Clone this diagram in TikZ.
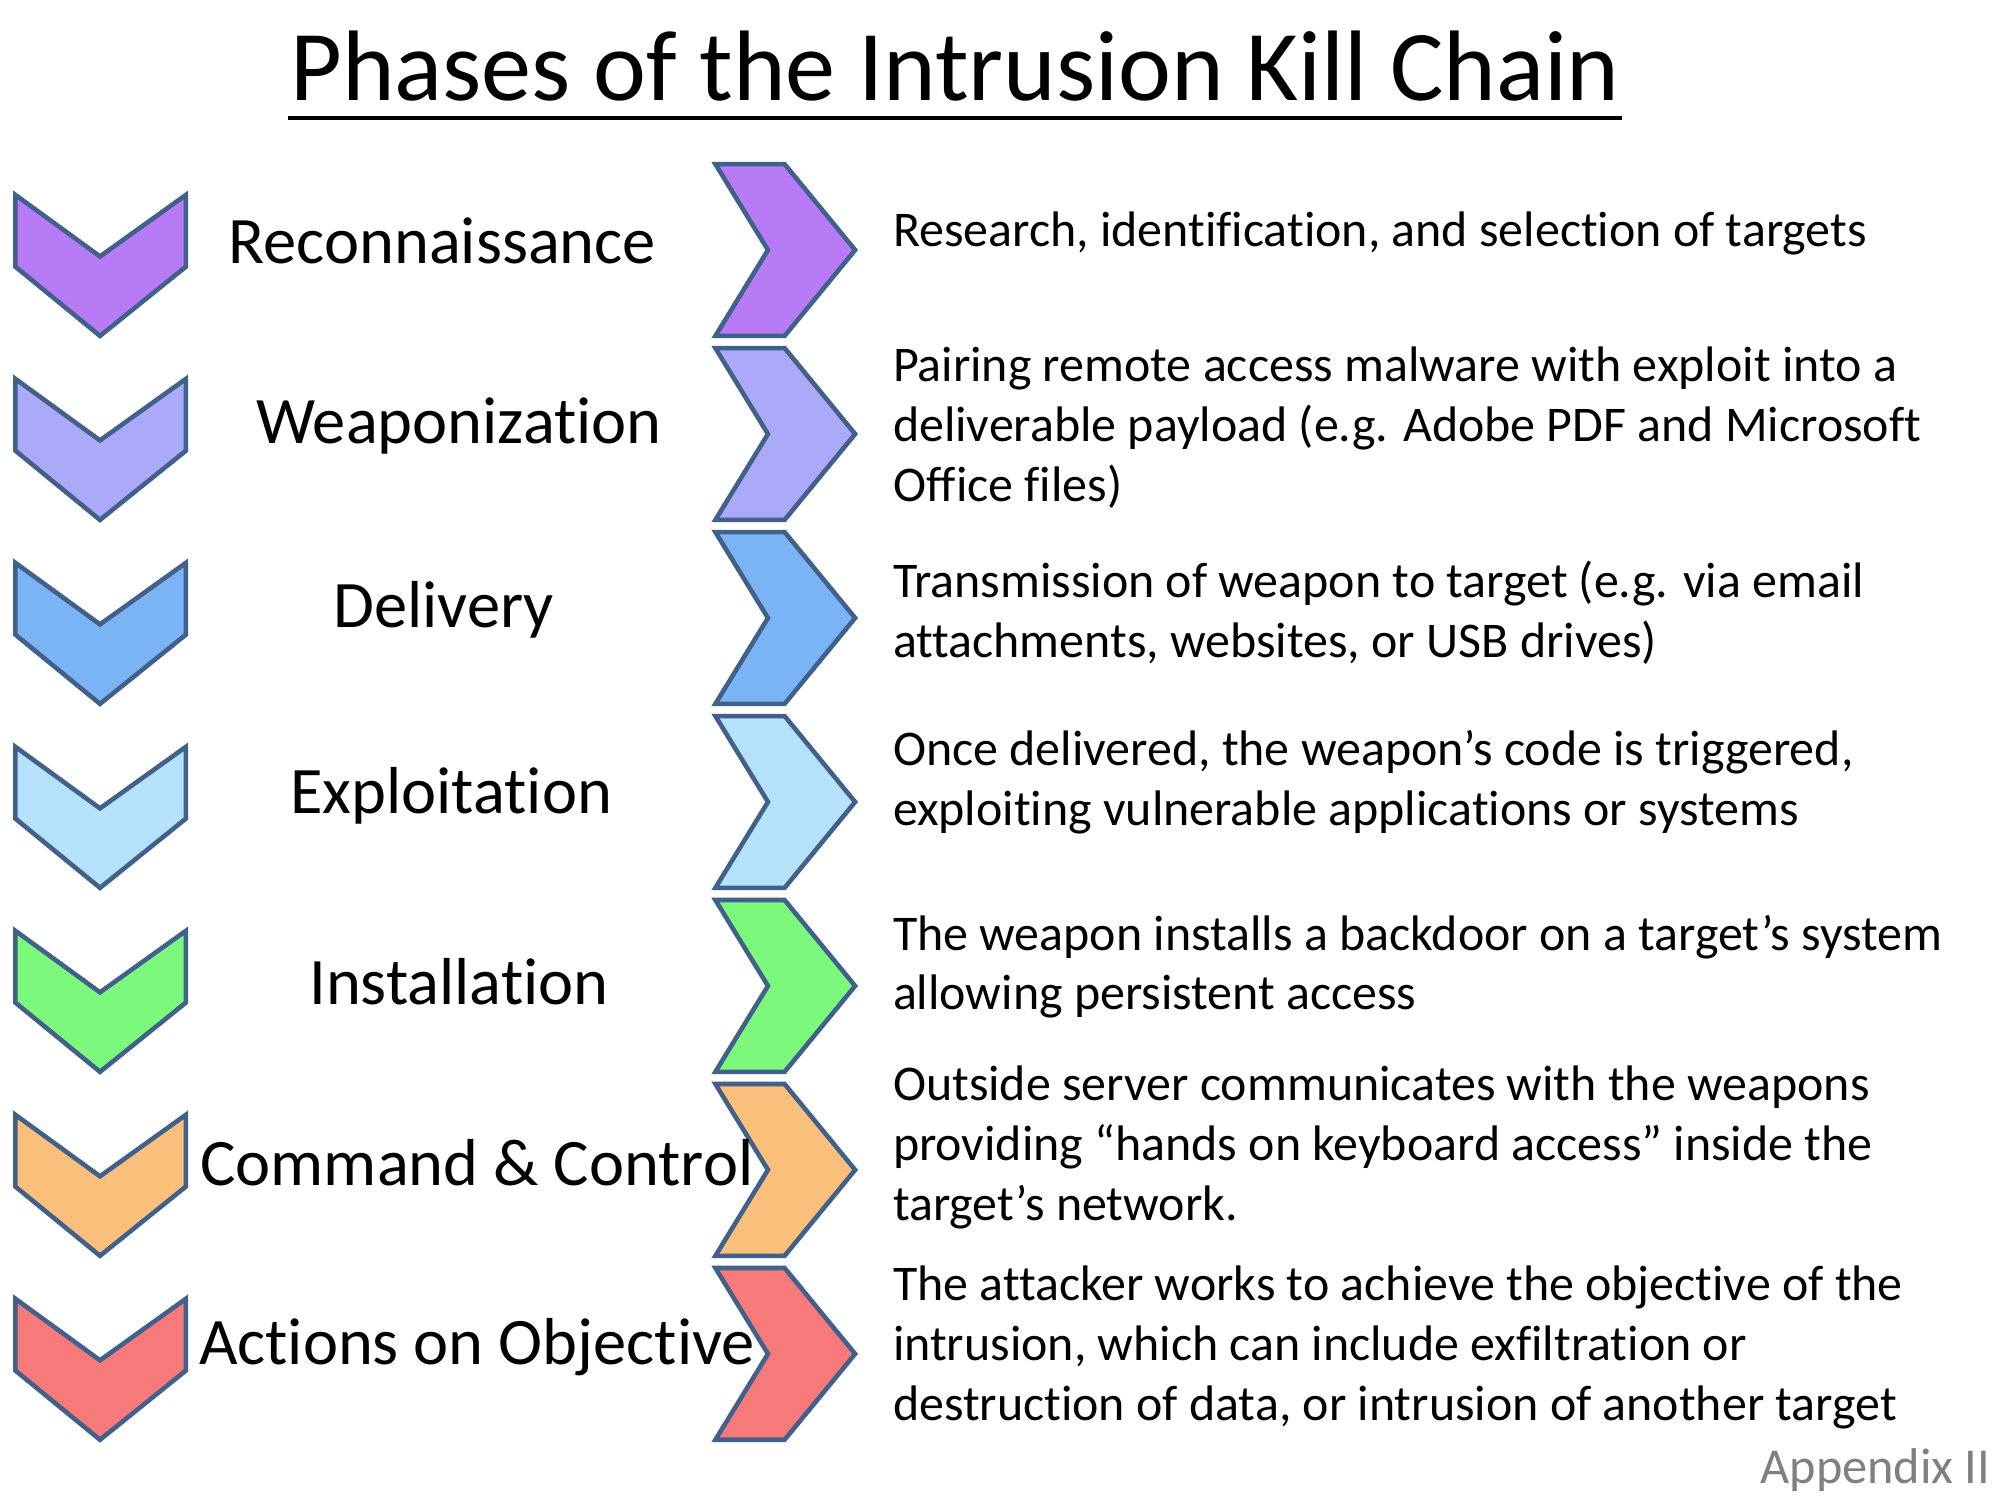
\documentclass[tikz,border=0pt]{standalone}
\usepackage{fontspec}
\setmainfont{Carlito}[Ligatures=NoCommon]
\begin{document}
\begin{tikzpicture}[x=0.01282cm,y=-0.01282cm,
  chev/.style={draw=ol,line width=1.3pt,line join=miter},
  phase/.style={font=\fontsize{18.9}{22}\selectfont,inner sep=0pt},
  desc/.style={font=\fontsize{14.2}{17}\selectfont,align=left,anchor=north west,inner sep=0pt}]
\definecolor{ol}{HTML}{41608A}
\definecolor{c1}{HTML}{B77BF5}\definecolor{c2}{HTML}{AAAAF8}\definecolor{c3}{HTML}{7AB4F5}
\definecolor{c4}{HTML}{B5E2FA}\definecolor{c5}{HTML}{7CF97C}\definecolor{c6}{HTML}{FBBF7C}
\definecolor{c7}{HTML}{F77A7A}
\useasboundingbox (0,0) rectangle (1560,1170);
\node[inner sep=0pt,font=\fontsize{28.5}{34}\selectfont,anchor=base] (title) at (745,78) {Phases of the Intrusion Kill Chain};
\draw[line width=1.2pt] (225,92) -- (1265,92);
\foreach \i/\c in {0/c1,1/c2,2/c3,3/c4,4/c5,5/c6,6/c7}{
  \begin{scope}[yshift=-\i*143.5*0.01282cm]
  \draw[chev,fill=\c] (12,152) -- (78,200) -- (145,152) -- (145,208) -- (78,262) -- (12,208) -- cycle;
  \draw[chev,fill=\c] (558,128) -- (612,128) -- (667,195) -- (612,262) -- (558,262) -- (599,195) -- cycle;
  \end{scope}}
\node[phase] (p1) at (345,188) {Reconnaissance};
\node[phase] (p2) at (358,332) {Weaponization};
\node[phase] (p3) at (346,476) {Delivery};
\node[phase] (p4) at (352,621) {Exploitation};
\node[phase] (p5) at (358,766) {Installation};
\node[phase] (p6) at (372,907) {Command \& Control};
\node[phase] (p7) at (372,1051) {Actions on Objective};
\node[desc] (d1) at (696,165) {Research, identification, and selection of targets};
\node[desc] (d2) at (696,270) {Pairing remote access malware with exploit into a\\deliverable payload (e.g. Adobe PDF and Microsoft\\Office files)};
\node[desc] (d3) at (696,437) {Transmission of weapon to target (e.g. via email\\attachments, websites, or USB drives)};
\node[desc] (d4) at (696,569) {Once delivered, the weapon’s code is triggered,\\exploiting vulnerable applications or systems};
\node[desc] (d5) at (696,713) {The weapon installs a backdoor on a target’s system\\allowing persistent access};
\node[desc] (d6) at (696,831) {Outside server communicates with the weapons\\providing “hands on keyboard access” inside the\\target’s network.};
\node[desc] (d7) at (696,987) {The attacker works to achieve the objective of the\\intrusion, which can include exfiltration or\\destruction of data, or intrusion of another target};
\node[inner sep=0pt,anchor=base east,text=gray,font=\fontsize{14.3}{17}\selectfont] (app) at (1553,1157) {Appendix II};
\end{tikzpicture}
\end{document}
